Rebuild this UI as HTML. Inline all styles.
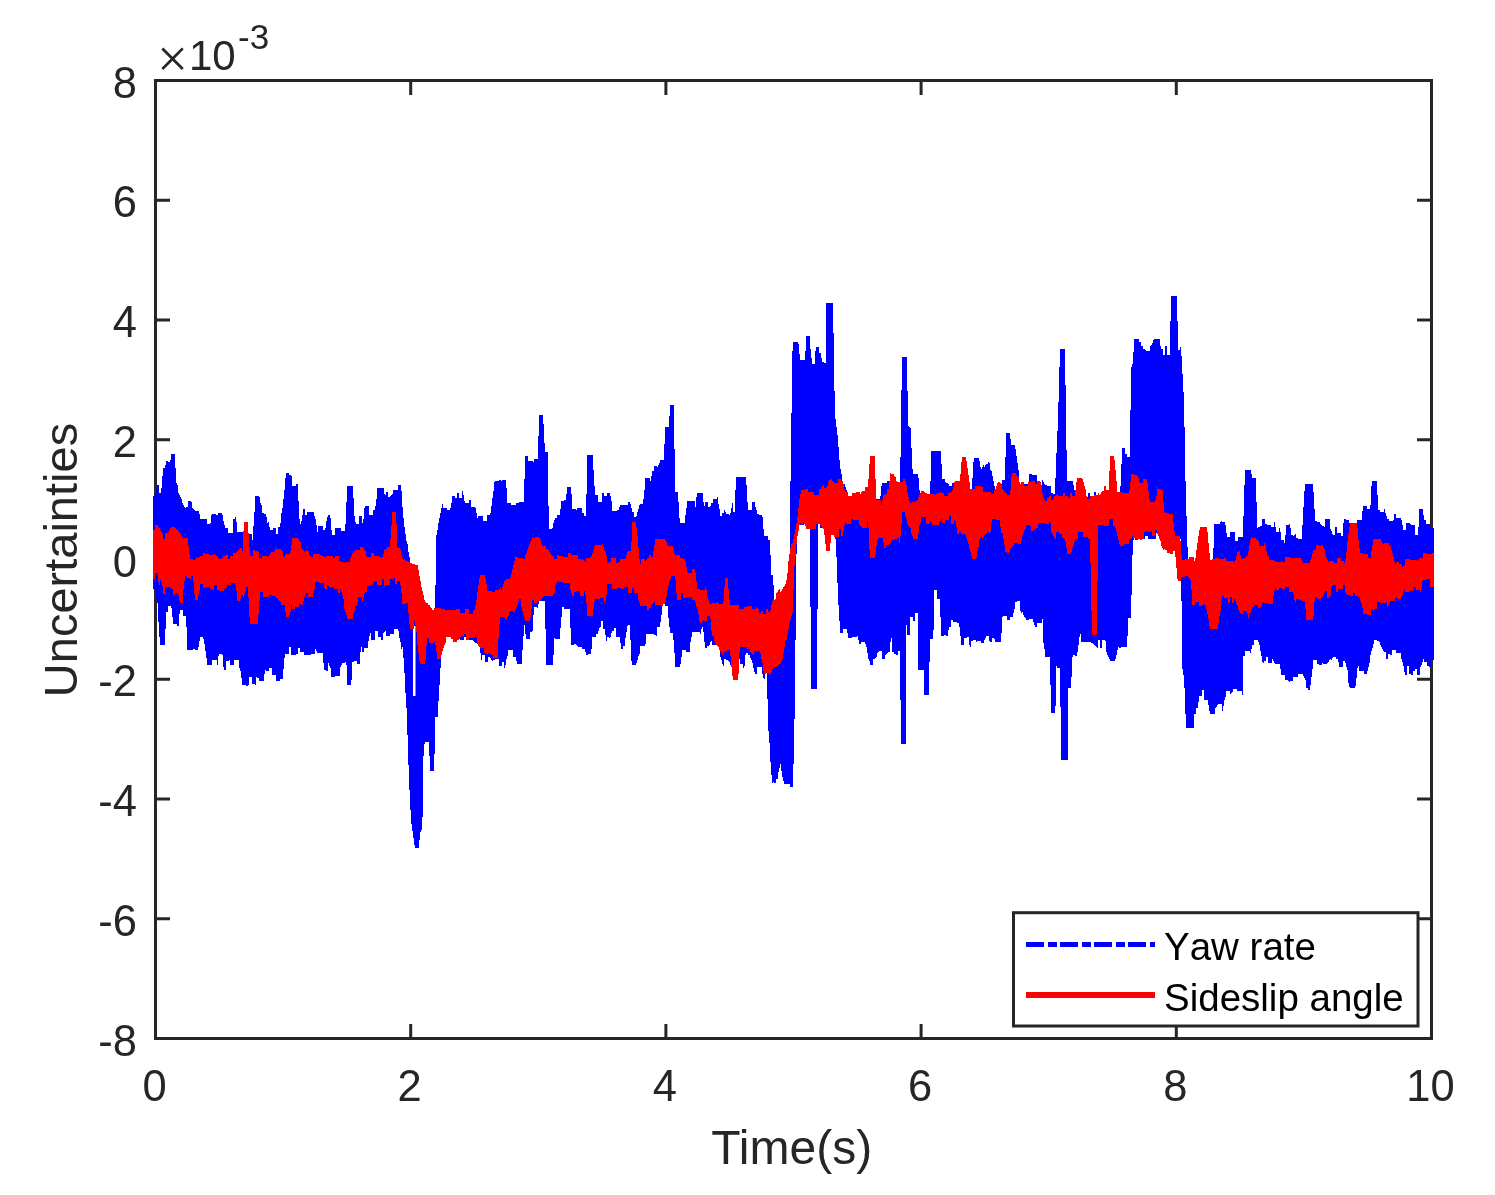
<!DOCTYPE html>
<html><head><meta charset="utf-8"><title>Uncertainties</title>
<style>html,body{margin:0;padding:0;background:#fff;overflow:hidden}svg{display:block}</style></head><body>
<svg width="1495" height="1195" viewBox="0 0 1495 1195">
<rect width="1495" height="1195" fill="#fff"/>
<path d="M155.5 1038.5V1024M155.5 80.5V95M410.7 1038.5V1024M410.7 80.5V95M665.9 1038.5V1024M665.9 80.5V95M921.1 1038.5V1024M921.1 80.5V95M1176.3 1038.5V1024M1176.3 80.5V95M1431.5 1038.5V1024M1431.5 80.5V95M155.5 1038.5H170M1431.5 1038.5H1417M155.5 918.8H170M1431.5 918.8H1417M155.5 799H170M1431.5 799H1417M155.5 679.2H170M1431.5 679.2H1417M155.5 559.5H170M1431.5 559.5H1417M155.5 439.8H170M1431.5 439.8H1417M155.5 320H170M1431.5 320H1417M155.5 200.2H170M1431.5 200.2H1417M155.5 80.5H170M1431.5 80.5H1417" stroke="#262626" stroke-width="3" fill="none"/>
<rect x="155.5" y="80.5" width="1276" height="958" fill="none" stroke="#262626" stroke-width="3"/>
<path d="M153.5 496.2V589.2M154.5 496.2V589.2M155.5 492.7V592.6M156.5 489.2V599.4M157.5 484.8V602.6M158.5 484.8V622.2M159.5 493.3V637.4M160.5 493.3V645M161.5 487.6V645M162.5 476.3V645M163.5 467.7V645M164.5 467.7V645M165.5 464.7V628.5M166.5 461.3V612M167.5 461.3V612M168.5 462.2V606.4M169.5 462.2V606.4M170.5 460.2V606.4M171.5 454V607.7M172.5 454V617M173.5 454V624.4M174.5 454V624.4M175.5 468.3V624.4M176.5 482.5V624.4M177.5 485V625.5M178.5 492.6V625.5M179.5 495.1V614M180.5 497.3V610.4M181.5 499.3V610.4M182.5 502.5V610.4M183.5 504.5V615.6M184.5 506.5V615.6M185.5 507.5V615.6M186.5 507.1V626.6M187.5 507.1V649.5M188.5 501.1V650M189.5 501.1V650M190.5 501.1V650M191.5 501.7V650M192.5 507.8V649.9M193.5 509.1V649.2M194.5 510.1V649.2M195.5 510.7V649.7M196.5 510.7V649.7M197.5 510.7V649.7M198.5 510.7V646.6M199.5 514V640.6M200.5 519V636.6M201.5 519V636.6M202.5 519V636.6M203.5 519V639.1M204.5 519V644.3M205.5 519V651.2M206.5 519V658.1M207.5 524V665.2M208.5 524V665.2M209.5 524V665.2M210.5 523.4V665.2M211.5 514.7V665.2M212.5 513.5V660.3M213.5 513.5V660.3M214.5 513.5V660.3M215.5 513.5V660.3M216.5 515.3V660.3M217.5 515.3V664.5M218.5 512.7V655.7M219.5 512.7V653.5M220.5 512.7V653.5M221.5 512.7V653.5M222.5 514.6V654.9M223.5 520.6V666.9M224.5 524.5V669.9M225.5 527.5V669.9M226.5 527.5V660.6M227.5 527.5V660.6M228.5 532.6V660.6M229.5 532.6V660M230.5 532.6V664.9M231.5 532.6V664.9M232.5 532.6V664.9M233.5 519.3V664.9M234.5 519.3V659.7M235.5 517.4V659.7M236.5 522.1V659.7M237.5 531.6V659.7M238.5 531.6V659.7M239.5 531.6V667.6M240.5 531.6V671M241.5 531.6V677.8M242.5 531.7V684.6M243.5 531.7V685.2M244.5 531.7V685.2M245.5 531.7V685.2M246.5 536.9V685.6M247.5 536.9V685.6M248.5 536.9V685.2M249.5 534V677.2M250.5 534V677M251.5 534V677M252.5 540.3V684.4M253.5 526.3V684.4M254.5 512.3V684.4M255.5 496V684.8M256.5 496V677.4M257.5 496V678.2M258.5 496V678.2M259.5 497.4V680.8M260.5 502.9V680.8M261.5 505.1V680.8M262.5 512.6V680.8M263.5 512.6V680.8M264.5 513.9V674.3M265.5 513.9V669.5M266.5 516.8V670.5M267.5 522.5V670.5M268.5 521.6V670.5M269.5 527.3V668.3M270.5 530.2V668.3M271.5 530.2V668.3M272.5 530.2V675M273.5 528V675M274.5 528V675M275.5 528V674.5M276.5 533.7V680.7M277.5 533.7V681.1M278.5 527.2V681.1M279.5 527.2V681.1M280.5 522.6V679.2M281.5 513.2V679.2M282.5 508.2V679.2M283.5 498.9V668.7M284.5 489.5V657.9M285.5 477.5V653.6M286.5 473.4V653.6M287.5 473.4V653.6M288.5 473.4V653.6M289.5 474.6V647M290.5 474.6V647M291.5 476.4V654.7M292.5 486.2V654.7M293.5 486.2V654.7M294.5 486.2V654.7M295.5 486.2V654.7M296.5 483.5V653.6M297.5 483.5V653.6M298.5 501.1V647.9M299.5 518.7V647.9M300.5 524.3V651.9M301.5 520.9V651.9M302.5 514.5V651.9M303.5 509.1V651.9M304.5 509.1V654.5M305.5 515.3V654.5M306.5 515.3V654.5M307.5 511.6V654.6M308.5 511.6V654.6M309.5 511.6V654.6M310.5 511.6V654.6M311.5 512.2V653.9M312.5 512.2V653.9M313.5 512.2V653.9M314.5 515.8V653.9M315.5 519V649.2M316.5 525.4V651.2M317.5 531.8V653.2M318.5 526.3V653.2M319.5 526.3V653.1M320.5 526.3V653.1M321.5 526.3V653.1M322.5 526.3V653.1M323.5 529.5V662.7M324.5 529.5V669.8M325.5 527.5V669.8M326.5 520.8V670.9M327.5 516.8V670.9M328.5 515.2V663.4M329.5 515.2V666.4M330.5 517.6V668.4M331.5 529.7V677M332.5 534.5V677M333.5 534.5V677M334.5 534.5V677M335.5 528.4V675.9M336.5 528.4V675.9M337.5 527.8V675.9M338.5 527.8V676.3M339.5 527.8V676.3M340.5 527.8V667.4M341.5 531.4V665.4M342.5 531.4V663.4M343.5 531.1V663.4M344.5 531.1V663.4M345.5 523.6V662.3M346.5 502.4V664.9M347.5 486V685M348.5 486V685M349.5 486V685M350.5 486V685M351.5 486V679.7M352.5 486V661.7M353.5 497.6V661.7M354.5 516.1V661.1M355.5 521.9V661.1M356.5 523.5V661.1M357.5 523.5V664M358.5 523.5V664M359.5 515.7V664M360.5 515.7V651.9M361.5 515.7V647.1M362.5 523.3V652.2M363.5 519.3V652.2M364.5 508V647.9M365.5 506V647.9M366.5 506V647.9M367.5 506V647.9M368.5 506V641.1M369.5 514.5V636.2M370.5 514.5V632.8M371.5 514.5V639.6M372.5 514.5V639.6M373.5 509.9V639.6M374.5 509.9V639.6M375.5 506.3V630.9M376.5 499.1V630.9M377.5 487.7V630.9M378.5 487.7V637M379.5 487.7V637M380.5 487.9V637M381.5 487.9V639.5M382.5 487.9V639.5M383.5 487.9V633.2M384.5 494.2V632M385.5 495.2V631.4M386.5 492V636.3M387.5 492V636.3M388.5 497V636.3M389.5 497V636.3M390.5 496.3V634M391.5 495V634M392.5 493.7V634M393.5 489.8V634M394.5 489.5V629.4M395.5 489.5V629.4M396.5 489.5V629.4M397.5 489.5V629.4M398.5 485.4V630.6M399.5 485.4V638.3M400.5 485.4V642.2M401.5 490.6V648.9M402.5 507.4V646.9M403.5 517.8V657.7M404.5 526.6V672.7M405.5 534V692.7M406.5 541.4V707.7M407.5 544.1V735.2M408.5 551.5V765.2M409.5 556.7V789.7M410.5 564.3V809.7M411.5 572V823.8M412.5 579.1V831.2M413.5 581V838.2M414.5 582.9V844.8M415.5 584.7V848M416.5 586.6V848M417.5 590.1V848M418.5 592V848M419.5 593.9V840M420.5 596.5V831.6M421.5 599.9V829.7M422.5 599.7V816.5M423.5 603.1V755.6M424.5 606.5V743.7M425.5 616.7V742.4M426.5 617.2V742.4M427.5 611.8V742.4M428.5 612.3V741.7M429.5 612.8V755.7M430.5 613.3V771M431.5 613.8V771M432.5 611.1V771M433.5 611.6V771M434.5 612.1V754M435.5 584.6V716.9M436.5 535.4V716.9M437.5 530.4V716.9M438.5 523.3V700.9M439.5 518.4V685.2M440.5 513.4V667.5M441.5 508.4V654.6M442.5 503.5V646.6M443.5 508.3V642.4M444.5 508.3V635.6M445.5 508.3V635.4M446.5 508.3V635.5M447.5 510V635.6M448.5 510V635.7M449.5 510V635.1M450.5 507.8V635.2M451.5 503.4V635.3M452.5 496.2V635.4M453.5 496.2V635.5M454.5 496.2V635.8M455.5 498.2V635.9M456.5 498.2V636M457.5 493.2V639.2M458.5 493.2V639.3M459.5 497.8V639.4M460.5 497.8V639.5M461.5 497.8V639.6M462.5 490.8V639.8M463.5 494.8V639.9M464.5 500.8V636.9M465.5 502.8V637.1M466.5 502.8V637.4M467.5 502.8V637.7M468.5 502.8V638M469.5 500.4V639.5M470.5 500.4V639.8M471.5 506.5V640.1M472.5 506.5V640.4M473.5 506.9V641.3M474.5 506.9V641.6M475.5 508V642.7M476.5 512.8V643.3M477.5 517.6V643.9M478.5 516V643.2M479.5 516V643.8M480.5 516V652.9M481.5 516V660.4M482.5 516V655.4M483.5 521.1V655.4M484.5 521.1V655.4M485.5 521.1V662.2M486.5 521.1V662.2M487.5 515.1V662.2M488.5 515.1V657.3M489.5 515.1V657.3M490.5 513V658.3M491.5 506V660.3M492.5 498.2V661.3M493.5 491.2V660.4M494.5 482V660.4M495.5 480.7V659.4M496.5 480.7V659.4M497.5 480.7V659.4M498.5 480.7V659.4M499.5 479.9V665.5M500.5 480.3V665.5M501.5 481.1V665.5M502.5 479.5V662.1M503.5 479.5V662.1M504.5 479.5V668.4M505.5 479.5V665.4M506.5 488.1V659.4M507.5 503.4V656.4M508.5 503.4V649.6M509.5 503.4V649.6M510.5 503.4V649.6M511.5 505.3V649.6M512.5 505.3V649.6M513.5 505.3V656.5M514.5 505.3V656.5M515.5 505.3V656.5M516.5 502.6V661M517.5 502.6V663.5M518.5 502.6V663.5M519.5 502.3V663.5M520.5 502.3V663.5M521.5 502.3V663.5M522.5 502.3V649.6M523.5 502.3V636.1M524.5 479V624.8M525.5 455.5V634.3M526.5 455.5V638.8M527.5 455.5V638.8M528.5 460.5V638.8M529.5 460.5V638.8M530.5 460.5V631.9M531.5 460.5V631.9M532.5 461.4V631.2M533.5 461.9V615.2M534.5 458.5V607.2M535.5 458.5V607.2M536.5 458.5V607.2M537.5 458.5V607.9M538.5 435.5V603.9M539.5 415V599.9M540.5 415V600.6M541.5 415V600.6M542.5 415V600.6M543.5 424.2V600.6M544.5 442.8V600.6M545.5 452.2V629.2M546.5 452.2V665M547.5 452.2V665M548.5 506.1V665M549.5 529.4V665M550.5 529.4V665M551.5 529.4V665M552.5 527.7V665M553.5 523.3V655M554.5 520V637.6M555.5 518.3V638.9M556.5 518.3V638.9M557.5 514.7V638.9M558.5 514.7V638.9M559.5 514.7V638.9M560.5 508.7V627.6M561.5 501.1V617.2M562.5 501.4V606.8M563.5 501.4V606.8M564.5 500V608.6M565.5 500V608.6M566.5 493.5V608.6M567.5 487V608.6M568.5 487V609.1M569.5 487V609.1M570.5 487V628M571.5 493.7V644.5M572.5 508.5V644.5M573.5 508.5V644.5M574.5 508.5V643.9M575.5 508.5V643.9M576.5 510.1V644.5M577.5 508.1V645.9M578.5 508.1V646.9M579.5 508.1V646.9M580.5 508.1V646.9M581.5 507.7V646.9M582.5 513.1V648.9M583.5 513.1V648.9M584.5 516.1V648.8M585.5 516.1V651.8M586.5 493.5V654.9M587.5 455V654.9M588.5 455V653.6M589.5 455V653.6M590.5 455V653.6M591.5 455V648.8M592.5 455V636.8M593.5 469.8V636.8M594.5 486V636.8M595.5 495.4V636.8M596.5 495.4V633.7M597.5 495.4V633.7M598.5 502V630.9M599.5 502V628.1M600.5 502V626.7M601.5 502V620.8M602.5 493.1V620.8M603.5 493.1V629M604.5 496V629M605.5 496V635M606.5 496V641M607.5 493.2V636.5M608.5 493.2V636.5M609.5 493.2V637.9M610.5 495.8V636.9M611.5 501V633.2M612.5 511.4V631.2M613.5 511.4V631.2M614.5 511.4V627.8M615.5 511.4V627.8M616.5 511.4V636.8M617.5 509.5V636.8M618.5 509.5V636.8M619.5 506.5V636.8M620.5 504.5V642.8M621.5 504.5V648.8M622.5 504.7V648.8M623.5 504.7V645.5M624.5 504.7V645.5M625.5 504.8V637.5M626.5 504.8V631.9M627.5 504.8V626.3M628.5 502.1V625M629.5 502.1V625M630.5 504.4V640M631.5 508.4V661M632.5 512.4V664.8M633.5 512.4V664.8M634.5 517.4V665M635.5 517.4V665M636.5 515.6V662.6M637.5 512.1V660.1M638.5 508.6V656M639.5 505.3V653.5M640.5 503.5V645.8M641.5 503.5V645.8M642.5 503.5V645.8M643.5 499.3V645.8M644.5 489.8V645.8M645.5 477.5V644.4M646.5 477.5V634.4M647.5 477.5V633.7M648.5 477.5V633.7M649.5 477.5V633.7M650.5 481V633.8M651.5 476.2V633.8M652.5 471.4V633.8M653.5 471.4V633.8M654.5 466.3V634.5M655.5 466.3V635M656.5 466.3V635.5M657.5 467V627.4M658.5 465V627.4M659.5 463V627.4M660.5 460.4V622.2M661.5 460.4V614.5M662.5 460.4V604.1M663.5 460.4V604.1M664.5 443.5V604.1M665.5 427V605.8M666.5 427V605.8M667.5 427V605.8M668.5 427V617.8M669.5 416V626.8M670.5 405V632.8M671.5 405V632.8M672.5 405V632.8M673.5 405V639.5M674.5 448.5V653M675.5 492.3V667M676.5 492.3V667M677.5 492.3V667M678.5 501.5V667M679.5 518.1V667M680.5 522.7V664M681.5 522.7V657M682.5 522.8V649.6M683.5 522.8V649.6M684.5 522.8V649.6M685.5 515.3V649.6M686.5 507.8V651.9M687.5 501.1V651.9M688.5 501.1V651.9M689.5 501.1V651.9M690.5 501.1V642.1M691.5 501.1V636.9M692.5 501.3V631.7M693.5 501.3V631.7M694.5 501.3V631.7M695.5 506.5V632M696.5 497.4V632M697.5 493.4V632M698.5 493.4V632M699.5 493.4V632M700.5 493.2V633.5M701.5 493.2V629M702.5 493.2V626.6M703.5 501.5V631.9M704.5 506.3V642.4M705.5 502.1V647.6M706.5 502.1V647.6M707.5 502.1V645.6M708.5 507V645.6M709.5 507V645.1M710.5 505.8V642.3M711.5 503.4V641.3M712.5 503V644.9M713.5 498.8V644.9M714.5 498.8V644.9M715.5 498.8V644.9M716.5 498.8V643.9M717.5 496.8V645.1M718.5 503.6V647.4M719.5 509.2V649.8M720.5 516V656.8M721.5 516V660.4M722.5 512.5V664.1M723.5 512.5V665.9M724.5 510.1V658.9M725.5 512.1V658.9M726.5 514.1V659.8M727.5 514.1V659.8M728.5 514.1V660.9M729.5 515.1V661.5M730.5 512.7V665.4M731.5 507.9V666M732.5 503.1V666.6M733.5 511.8V666.9M734.5 511.8V666.9M735.5 489.5V659.1M736.5 477V659.1M737.5 477V659.1M738.5 477V659.1M739.5 477V659.1M740.5 477V663.7M741.5 477V663.7M742.5 477V663.7M743.5 477V668.3M744.5 477V665.5M745.5 477V655.3M746.5 485.3V652.6M747.5 502.2V652.6M748.5 509.5V655M749.5 509.5V655M750.5 509.5V657.8M751.5 509.5V659.9M752.5 502.1V663.3M753.5 502.1V667.5M754.5 502.1V671.8M755.5 506.6V673.9M756.5 510.2V673.9M757.5 513.8V667M758.5 513.8V667M759.5 515.3V667M760.5 515.3V667M761.5 515.3V667M762.5 516.7V674.1M763.5 529.4V677.6M764.5 535.7V679.3M765.5 535.7V672.5M766.5 536.4V672.5M767.5 536.4V698.5M768.5 539.5V730.7M769.5 539.5V742.9M770.5 554.5V762.2M771.5 574.5V774.5M772.5 575.1V783M773.5 585.1V782M774.5 600.1V783M775.5 605.1V783M776.5 605.1V778.5M777.5 605.1V778.5M778.5 605.1V772.2M779.5 600.1V767.8M780.5 600.1V763.5M781.5 600.1V771.4M782.5 603.1V777.1M783.5 603.1V780.8M784.5 603.1V783.7M785.5 601.8V783.7M786.5 603.9V783.7M787.5 601.4V783.7M788.5 598.9V784.1M789.5 558.1V784.1M790.5 480.5V787M791.5 412.7V787M792.5 350.8V787M793.5 341.5V763.8M794.5 341.5V718.8M795.5 341.5V640.2M796.5 341.5V554.2M797.5 341.5V516.7M798.5 343.6V516.7M799.5 353.5V516.7M800.5 360.2V524.9M801.5 360.2V524.9M802.5 360.2V524.9M803.5 360V524.9M804.5 360V517.2M805.5 350.5V517.2M806.5 336V517.2M807.5 336V517.2M808.5 336V518.2M809.5 336V518.2M810.5 348.5V607M811.5 358V689M812.5 364.2V689M813.5 364.2V689M814.5 364.2V689M815.5 350.8V689M816.5 346.6V689M817.5 346.6V608.5M818.5 346.6V523.7M819.5 353.2V523.7M820.5 353.2V527.6M821.5 357.5V527.6M822.5 361.7V519.5M823.5 361.7V519.5M824.5 363V519.5M825.5 363V527.8M826.5 302.6V527.8M827.5 302.6V526.7M828.5 302.6V526.7M829.5 302.6V526.7M830.5 302.6V527.9M831.5 302.6V527.9M832.5 302.6V527.9M833.5 332.8V527.9M834.5 391V532.9M835.5 418.7V539.4M836.5 427V557.4M837.5 435.4V583.4M838.5 446.9V604.6M839.5 459.9V621.1M840.5 468.9V632.9M841.5 473.9V632.9M842.5 480.5V632.9M843.5 484.8V629.3M844.5 483.5V629.3M845.5 487V629.3M846.5 490.4V629.3M847.5 497.4V632.8M848.5 498.9V637.9M849.5 500.3V637.9M850.5 501V637.9M851.5 501V637.9M852.5 502.3V637.3M853.5 502.3V637.3M854.5 502.3V637.3M855.5 502.3V637.3M856.5 493.6V637.3M857.5 493.6V636.1M858.5 493.6V640.1M859.5 494.1V644.1M860.5 494.1V644.1M861.5 494.1V641.8M862.5 494.1V641.8M863.5 496.9V641.8M864.5 496.9V641.8M865.5 496.9V644.4M866.5 496.9V647.2M867.5 498.2V652.9M868.5 498.2V658.6M869.5 498.2V661.4M870.5 498.2V664.7M871.5 498.2V664.7M872.5 495.6V664.7M873.5 495.6V658.5M874.5 495.6V658.5M875.5 498.6V657.9M876.5 498.6V656.6M877.5 498.6V653M878.5 498.6V651.8M879.5 498.6V651.1M880.5 495.6V651.1M881.5 486.2V651.1M882.5 483.2V658.5M883.5 483.2V658.5M884.5 482.6V658.5M885.5 482.6V655M886.5 482.6V654.4M887.5 481.1V653.2M888.5 481.1V651.9M889.5 481.1V652.4M890.5 491.7V641.8M891.5 496.2V638.4M892.5 498.5V651.8M893.5 498V651.8M894.5 498V654.2M895.5 498V654.2M896.5 498V654.7M897.5 498V654.7M898.5 498V651.3M899.5 498V651.3M900.5 456.6V699.5M901.5 389.9V744M902.5 356.5V744M903.5 356.5V744M904.5 356.5V744M905.5 356.5V744M906.5 356.5V625.4M907.5 390.8V634.9M908.5 425.5V634.9M909.5 426.5V634.9M910.5 427.5V617M911.5 448V617M912.5 469.4V617M913.5 473.8V621.2M914.5 473.9V621.2M915.5 474.1V613.2M916.5 474.2V613.2M917.5 474.4V613.2M918.5 477.9V670M919.5 490V670M920.5 502V670M921.5 502V670M922.5 493.6V670M923.5 493.6V670M924.5 498.9V695M925.5 498.9V695M926.5 498.9V695M927.5 498.9V695M928.5 498.9V695M929.5 502.4V662M930.5 481.2V638.7M931.5 450.6V638.7M932.5 450.6V638.7M933.5 450.6V630.1M934.5 450.6V590.1M935.5 450.6V590.1M936.5 450.6V590.1M937.5 450.6V598.6M938.5 450.6V598.6M939.5 450.6V598.6M940.5 450.6V617.2M941.5 464.3V635.7M942.5 479.2V635.7M943.5 479.2V635.7M944.5 479.2V635M945.5 482.1V635M946.5 482.5V635.9M947.5 483.4V635.9M948.5 483.8V630.1M949.5 486V627.3M950.5 486.2V627.3M951.5 486.1V620.1M952.5 482.7V620.1M953.5 482.6V622M954.5 482.6V622M955.5 482.5V622M956.5 482.4V622M957.5 481.8V622.5M958.5 483.7V622.5M959.5 487.9V626.8M960.5 488.8V636M961.5 488.8V645.3M962.5 485.5V645.3M963.5 485.5V645.3M964.5 485.5V637.5M965.5 485.5V637.5M966.5 485.5V637.5M967.5 485.5V636.7M968.5 485.5V636.7M969.5 488.9V644.8M970.5 488.9V646.8M971.5 488.9V641.1M972.5 477.8V641.1M973.5 461.7V640.3M974.5 457.7V640.3M975.5 457.6V640.3M976.5 457.6V642.1M977.5 457.6V640.5M978.5 457.8V640.5M979.5 461V640.5M980.5 467.2V640.5M981.5 469.3V642.9M982.5 467.3V642.9M983.5 465.3V642.9M984.5 466.8V639.9M985.5 464.8V637.9M986.5 463.8V635.5M987.5 463.8V635.5M988.5 461.5V635.5M989.5 463.1V641.4M990.5 470.2V641.7M991.5 471.1V642.4M992.5 476.1V637.7M993.5 481.1V638.4M994.5 486.1V638.6M995.5 490V641.8M996.5 488V641.8M997.5 486V641.8M998.5 486V641.8M999.5 483.6V641.8M1000.5 483.6V641.8M1001.5 483.6V633.4M1002.5 480.3V616.8M1003.5 480.3V615.6M1004.5 480.3V615.6M1005.5 456.6V615.6M1006.5 432.5V615.6M1007.5 432.5V619.8M1008.5 432.5V619.8M1009.5 432.5V619.8M1010.5 438.8V617.1M1011.5 445V617.1M1012.5 445V617.1M1013.5 445V613.1M1014.5 445V609.1M1015.5 448.5V601.7M1016.5 455.5V601.7M1017.5 462.5V601.3M1018.5 469.5V601.3M1019.5 484.2V601.3M1020.5 487.1V610.9M1021.5 485.9V613.4M1022.5 486.2V612.2M1023.5 485V614.7M1024.5 483.8V617.2M1025.5 484V618.4M1026.5 484V619.7M1027.5 484V619.7M1028.5 484V619.7M1029.5 474.3V619.2M1030.5 474.3V619.2M1031.5 474.3V619.2M1032.5 475V619.2M1033.5 475V621.5M1034.5 475V624.5M1035.5 475V626.5M1036.5 475V626.5M1037.5 483.9V622.8M1038.5 483.9V622.8M1039.5 483.9V622.8M1040.5 485V622.8M1041.5 487.2V622.8M1042.5 479.5V619.2M1043.5 481.7V643.2M1044.5 483.9V649.2M1045.5 485V656.8M1046.5 485V656.8M1047.5 485.6V656.8M1048.5 485.6V656.8M1049.5 485.6V656.6M1050.5 485.6V685M1051.5 493.1V712.5M1052.5 493.1V712.5M1053.5 493.6V712.5M1054.5 493.6V712.5M1055.5 477.6V706.3M1056.5 452.5V665.8M1057.5 430.8V668.4M1058.5 402.2V668.4M1059.5 366.8V668.4M1060.5 349V706.9M1061.5 349V760M1062.5 349V760M1063.5 349V760M1064.5 349V760M1065.5 384.5V760M1066.5 450V760M1067.5 481.1V760M1068.5 481.1V687.5M1069.5 480.6V687.5M1070.5 480.6V687.5M1071.5 480.6V677.2M1072.5 480.6V657.4M1073.5 485.4V654.8M1074.5 489.7V654.8M1075.5 492.1V656.2M1076.5 492.1V656.2M1077.5 492.1V652.1M1078.5 492.1V644.7M1079.5 494.5V637.3M1080.5 494.5V633.6M1081.5 501.2V641.9M1082.5 501.2V641.9M1083.5 501.2V641.9M1084.5 496.7V641.9M1085.5 496.7V641.9M1086.5 496.7V641.5M1087.5 496.7V641.5M1088.5 493.1V641.5M1089.5 493.1V641.5M1090.5 496.4V641.9M1091.5 496.4V642.6M1092.5 496.4V643.4M1093.5 496.4V644.3M1094.5 492.4V645.3M1095.5 492.4V646.2M1096.5 497.7V647.1M1097.5 497.7V647.9M1098.5 497.7V639.5M1099.5 497.7V639.5M1100.5 497.7V647.9M1101.5 501.3V647.9M1102.5 501.3V640.1M1103.5 501.3V640.1M1104.5 501.3V640.1M1105.5 501.3V641.3M1106.5 492.7V652.4M1107.5 492.7V654.8M1108.5 492.7V656.5M1109.5 492.7V658.9M1110.5 492.7V661M1111.5 499.9V661M1112.5 499.9V661M1113.5 496.6V661M1114.5 496.6V661M1115.5 496.6V658.8M1116.5 500.3V654.9M1117.5 500.3V649.7M1118.5 500.3V646.5M1119.5 500.3V647.7M1120.5 486V647.6M1121.5 463.8V647.4M1122.5 447.6V647.3M1123.5 447.6V647M1124.5 447.6V646.9M1125.5 453.9V646.9M1126.5 453.9V646.8M1127.5 456.6V635.7M1128.5 456.6V618.4M1129.5 456.6V618.4M1130.5 410.1V618.4M1131.5 366.5V595.4M1132.5 364.1V554.9M1133.5 352V539.7M1134.5 339.1V537.2M1135.5 339.1V539.8M1136.5 339.1V539.8M1137.5 339.1V539.8M1138.5 339.1V531.9M1139.5 342V531.9M1140.5 342V531.9M1141.5 346.4V531.9M1142.5 346.4V531.9M1143.5 349.2V539.4M1144.5 349V539.4M1145.5 350.4V536.2M1146.5 351V536.2M1147.5 351V536.2M1148.5 351V539.1M1149.5 351V539.1M1150.5 346.4V539.1M1151.5 345.1V538.8M1152.5 342.6V538.8M1153.5 340V538.8M1154.5 339.2V538.8M1155.5 339.2V538.8M1156.5 339.2V533.2M1157.5 339.2V533.2M1158.5 339.2V533.2M1159.5 339.2V533.2M1160.5 345.9V533.2M1161.5 348.9V530.5M1162.5 348.9V530.5M1163.5 354.9V539.6M1164.5 354.9V539.6M1165.5 346.3V539.6M1166.5 346.4V539.6M1167.5 354.7V531.3M1168.5 354.9V531.3M1169.5 355.2V531.3M1170.5 321V531.3M1171.5 296V531.2M1172.5 296V531.2M1173.5 296V531.2M1174.5 296V531.2M1175.5 296V539.8M1176.5 296V539.8M1177.5 321V539.4M1178.5 350.1V539.4M1179.5 350.1V539.4M1180.5 346.9V539.4M1181.5 355.9V601.3M1182.5 373.6V668.8M1183.5 391.6V674.7M1184.5 427.2V687.8M1185.5 480.6V713.7M1186.5 515.5V727.5M1187.5 547V727.5M1188.5 562.7V727.5M1189.5 571V727.5M1190.5 572.2V727.5M1191.5 573.6V727.5M1192.5 573.6V727.5M1193.5 573.6V727.5M1194.5 568.5V714M1195.5 568.5V714M1196.5 568.5V708M1197.5 568.5V708M1198.5 568.5V702M1199.5 565V696M1200.5 565V696M1201.5 565V696M1202.5 565V690.4M1203.5 567.5V690.4M1204.5 567.5V699.5M1205.5 567.5V699.5M1206.5 567.5V699.5M1207.5 567.5V699.5M1208.5 572.3V705.1M1209.5 572.3V711.1M1210.5 567.7V714.1M1211.5 567.7V714.1M1212.5 567.7V714.1M1213.5 547.7V714.1M1214.5 523.7V714.1M1215.5 523.7V708.1M1216.5 524.1V706.5M1217.5 524.1V704.9M1218.5 523.9V704.4M1219.5 523.6V704.4M1220.5 521.5V704.4M1221.5 521.3V704.4M1222.5 521.9V710.9M1223.5 521.9V705.5M1224.5 521.9V700.1M1225.5 525.3V697.4M1226.5 532.7V690.6M1227.5 537.1V690.6M1228.5 537.1V690.6M1229.5 537.1V690.6M1230.5 532V693.6M1231.5 532V692.9M1232.5 532V692.2M1233.5 532V688.8M1234.5 532V688.6M1235.5 540.6V688.6M1236.5 540.6V688.6M1237.5 540.6V690.5M1238.5 536.9V690.5M1239.5 536.9V690.5M1240.5 536.9V690.5M1241.5 536.9V690.5M1242.5 536.9V694.7M1243.5 516.3V655.7M1244.5 485.4V655.7M1245.5 470V650.8M1246.5 470V650.8M1247.5 470V650.8M1248.5 470V650.8M1249.5 470V650.8M1250.5 470V652.6M1251.5 473.8V648.6M1252.5 477.6V644.6M1253.5 477.6V644.6M1254.5 477.6V640.1M1255.5 477.6V640.1M1256.5 501.7V640.1M1257.5 528V640.1M1258.5 527.3V642.3M1259.5 526.7V645M1260.5 526.3V650.6M1261.5 526.3V656.2M1262.5 519.3V662.2M1263.5 519.3V662.7M1264.5 519.3V661.2M1265.5 523.9V661.2M1266.5 523.9V657.3M1267.5 525.1V657.3M1268.5 525.1V663.1M1269.5 525V663.1M1270.5 525V663.1M1271.5 526.9V663.1M1272.5 526.9V658.6M1273.5 526.9V660.5M1274.5 521.6V662.5M1275.5 526.6V663.7M1276.5 531.6V663.7M1277.5 531.6V663.7M1278.5 531.6V664.1M1279.5 528.3V664.1M1280.5 532.3V669.1M1281.5 540.3V674.9M1282.5 540.3V674.9M1283.5 540.3V674.9M1284.5 543.3V674.9M1285.5 535.3V680.1M1286.5 525.3V680.1M1287.5 525.3V680.1M1288.5 525.3V680.7M1289.5 524.1V681.9M1290.5 527.8V680.6M1291.5 535.4V680.6M1292.5 535.4V680.6M1293.5 535.8V676.7M1294.5 535.3V676.7M1295.5 534.3V676.7M1296.5 537.6V676.7M1297.5 537.6V676.7M1298.5 539.4V673.5M1299.5 539.4V673.5M1300.5 539.4V673.5M1301.5 539.4V673.5M1302.5 525.4V673.5M1303.5 506.8V676M1304.5 491V677.8M1305.5 484V679.6M1306.5 484V687.5M1307.5 484V687.5M1308.5 484V689.5M1309.5 484V689.5M1310.5 484V685.2M1311.5 484V677.3M1312.5 484V669.4M1313.5 491.8V659.6M1314.5 508.6V659.6M1315.5 520.9V659.6M1316.5 520.9V659.6M1317.5 521.9V663.9M1318.5 521.9V664.1M1319.5 521.9V664.5M1320.5 523.9V664.9M1321.5 524.7V665.3M1322.5 525.5V663.4M1323.5 526.3V663.6M1324.5 527.1V663.6M1325.5 519.2V663.6M1326.5 519.2V663.6M1327.5 519.2V662.5M1328.5 519.2V661.7M1329.5 519.2V660.1M1330.5 528.7V658.5M1331.5 531.2V659.7M1332.5 533.8V658.1M1333.5 535V657.3M1334.5 535V657.3M1335.5 526.8V657.3M1336.5 526.8V658.7M1337.5 532.7V658.7M1338.5 532.7V661.5M1339.5 532.7V667M1340.5 532.7V667.4M1341.5 535.8V667.4M1342.5 535.8V667.4M1343.5 522.9V661.4M1344.5 519V661.4M1345.5 519V663.1M1346.5 519.6V666.6M1347.5 519.6V670.1M1348.5 519.5V682.8M1349.5 523.2V686.7M1350.5 526.2V688.4M1351.5 526.2V688.4M1352.5 526.2V688.4M1353.5 532.8V688.4M1354.5 532.8V688.4M1355.5 532.8V686.3M1356.5 522.5V678.2M1357.5 519.5V668.1M1358.5 519.5V666M1359.5 520.3V671.1M1360.5 520.3V671.1M1361.5 520.3V671.1M1362.5 510.8V671.1M1363.5 505.7V671.1M1364.5 505.7V673.9M1365.5 505.7V673.9M1366.5 505.7V673.9M1367.5 509.4V671M1368.5 509.4V666.7M1369.5 509.4V663M1370.5 504.6V655M1371.5 485.8V651.4M1372.5 481V647.8M1373.5 481V644.1M1374.5 481V639.8M1375.5 481V639.8M1376.5 481V639.8M1377.5 494.8V641.4M1378.5 510.1V641.4M1379.5 510.1V642.4M1380.5 512.2V644.5M1381.5 512.2V646.6M1382.5 512.2V648.9M1383.5 512.2V651M1384.5 508.9V652M1385.5 512.6V651.9M1386.5 516.3V659.3M1387.5 518.9V659.2M1388.5 518.9V653.5M1389.5 520.6V653.5M1390.5 520.6V655.2M1391.5 520.6V655.2M1392.5 520.6V649.7M1393.5 520.4V649.7M1394.5 514.2V649.7M1395.5 513.8V649.7M1396.5 518V653.4M1397.5 518V653.4M1398.5 518V653.4M1399.5 518V653.4M1400.5 518V653.4M1401.5 519.6V659M1402.5 524.6V662.3M1403.5 529.6V665.6M1404.5 529.6V671.5M1405.5 529.6V674.8M1406.5 523.1V675.2M1407.5 523.1V666.1M1408.5 523.1V666.1M1409.5 523.1V673.9M1410.5 524.3V673.9M1411.5 524.7V675M1412.5 525V675M1413.5 525V670.8M1414.5 525.4V670.8M1415.5 534.9V668.7M1416.5 534.9V668.7M1417.5 534.9V674.8M1418.5 526.9V674.8M1419.5 509V674.8M1420.5 509V666.8M1421.5 509V664.7M1422.5 509V661.9M1423.5 514.9V659.2M1424.5 519.9V661.7M1425.5 519.9V661.7M1426.5 523.9V661.7M1427.5 523.9V666.2M1428.5 523.9V666.2M1429.5 523.9V666.9M1430.5 526.9V666.9M1431.5 528.3V660.1M1432.5 528.3V660.1M1433.5 528V660.1" fill="none" stroke="#00f" stroke-width="1" shape-rendering="crispEdges"/>
<rect x="413" y="626" width="2.5" height="70" fill="#fff"/>
<path d="M153.5 529.5V578.8M154.5 529.5V578.8M155.5 525.2V573.1M156.5 525.1V573.1M157.5 525.2V573.1M158.5 526.8V581.6M159.5 528.4V584.6M160.5 530V580.4M161.5 531.6V583.4M162.5 533.2V586.4M163.5 538.7V593.6M164.5 538.7V593.6M165.5 533.4V586.6M166.5 533.4V586.6M167.5 533.2V586.6M168.5 531.6V587M169.5 530V587.4M170.5 528.4V588.1M171.5 526.8V588.5M172.5 527.3V588.9M173.5 527.3V595.4M174.5 527.3V595.4M175.5 528.1V592.5M176.5 529.7V592.5M177.5 529.2V592.5M178.5 530.8V595.4M179.5 532.4V600.9M180.5 534V603.2M181.5 535.6V603.2M182.5 537.8V603.2M183.5 537.8V590.1M184.5 537.8V580.9M185.5 537.8V576.3M186.5 537.8V576.3M187.5 537.8V578.3M188.5 545.9V578.3M189.5 554.3V578.3M190.5 558.5V578.6M191.5 558.5V575.6M192.5 558.5V575.6M193.5 559.5V582.4M194.5 559.5V593.7M195.5 558.9V600M196.5 557.7V600M197.5 556.5V600M198.5 557.8V595.3M199.5 556.6V590.5M200.5 556V584.4M201.5 556V584.4M202.5 556V584.4M203.5 553.1V588.3M204.5 553.3V588.3M205.5 553.6V586.6M206.5 553.9V586.6M207.5 554.1V586.6M208.5 554.4V586.6M209.5 554.6V586.6M210.5 554.8V588.5M211.5 554.8V589.3M212.5 554.8V590.1M213.5 554.3V590.1M214.5 554.3V585.2M215.5 555.1V585.2M216.5 555.7V585.2M217.5 556.3V590M218.5 557.9V590M219.5 558.5V590.7M220.5 558.6V590.7M221.5 558.2V590.7M222.5 557.8V590.7M223.5 556.2V590.7M224.5 555.8V588.7M225.5 555.4V587.7M226.5 555V587.4M227.5 554.6V585.4M228.5 559.2V585.4M229.5 558.8V585.4M230.5 556.4V585.4M231.5 556.4V583.4M232.5 556.4V583.4M233.5 553V583.4M234.5 553V583.4M235.5 552.5V585.1M236.5 551.5V591.1M237.5 550.6V600.7M238.5 549.6V600.7M239.5 548.7V600.7M240.5 548.2V598.5M241.5 548.2V594.7M242.5 551.4V594.7M243.5 530.7V596.5M244.5 522V593.7M245.5 522V592.3M246.5 522V587.3M247.5 522V587.3M248.5 533.2V598.4M249.5 546.7V616.5M250.5 555.8V624M251.5 555.8V624M252.5 555.8V624M253.5 550.4V624M254.5 550.4V624M255.5 550.6V624M256.5 551V624M257.5 551.4V624M258.5 551.8V614M259.5 557.8V601M260.5 558.2V592.4M261.5 558.6V592.4M262.5 556V592.4M263.5 556V596.9M264.5 556V596.9M265.5 556V597.1M266.5 556V597.1M267.5 556.6V597.1M268.5 556V597.1M269.5 555.3V595.2M270.5 552.8V595.2M271.5 552.1V595.2M272.5 551.5V596.2M273.5 551.5V596.2M274.5 550.8V596.2M275.5 548.6V596.9M276.5 548.6V598.3M277.5 548.6V598.3M278.5 548.6V599.7M279.5 548.6V601.1M280.5 548.9V601.8M281.5 549.9V605.1M282.5 550.9V605.1M283.5 556.4V605.1M284.5 557.4V605.1M285.5 553.6V611.6M286.5 553.6V616.6M287.5 553.6V616.6M288.5 553.8V616.6M289.5 553.8V615M290.5 550.6V612.1M291.5 544.6V605.3M292.5 538.3V608.7M293.5 538.3V608.7M294.5 538V608.7M295.5 538V607M296.5 538.1V607M297.5 538.1V607M298.5 539.3V607M299.5 540.8V604.3M300.5 542V604.3M301.5 548.2V605.3M302.5 549.4V605.3M303.5 550.3V601.3M304.5 551.2V597.3M305.5 552.1V595.3M306.5 549.6V593.3M307.5 550.5V593.3M308.5 551.4V597.1M309.5 554.7V597.1M310.5 555.6V597.1M311.5 556.5V596.8M312.5 557.4V596.8M313.5 554.3V592.8M314.5 554.3V588.8M315.5 554.3V582.3M316.5 554.3V582.3M317.5 553.8V582.3M318.5 554V582.3M319.5 554.3V582.6M320.5 554.6V582.6M321.5 554.8V582.6M322.5 556V582.6M323.5 556.3V582.6M324.5 556.5V588.2M325.5 556.7V588.7M326.5 555.8V589.7M327.5 555.8V585.1M328.5 555.8V586.1M329.5 555.8V587.1M330.5 556.4V587.6M331.5 556.4V587.1M332.5 556.4V587.1M333.5 558.3V587.1M334.5 558.3V588.6M335.5 555.7V588.6M336.5 555.7V588.6M337.5 555.7V588.6M338.5 555.7V593.1M339.5 560.7V593.1M340.5 561V588.6M341.5 561.6V592M342.5 562.2V595.3M343.5 561.7V598.6M344.5 562.3V608.5M345.5 562.6V612.1M346.5 562.4V615.4M347.5 562.4V619M348.5 562.4V619M349.5 562.4V619M350.5 558.4V619M351.5 555.8V619M352.5 553.2V619M353.5 550.6V614.3M354.5 551.7V611.3M355.5 550.4V605.8M356.5 550.4V606.2M357.5 550.4V603.2M358.5 549.5V596.6M359.5 549.5V596.6M360.5 547.2V596.6M361.5 547.2V596.6M362.5 546.6V602.4M363.5 548.2V598.4M364.5 549.8V594.4M365.5 551.4V592.4M366.5 555.6V592.4M367.5 557.2V586.3M368.5 557.2V586.3M369.5 557.2V586.3M370.5 557.2V585.5M371.5 553.1V583.9M372.5 553.1V584.5M373.5 553.1V582.9M374.5 555.8V581.3M375.5 555.8V580.5M376.5 555.8V580.5M377.5 555.8V585.3M378.5 555.8V585.3M379.5 557.4V585.3M380.5 557.4V585.3M381.5 557.4V585.3M382.5 557.4V579M383.5 554.2V579M384.5 550.3V585.9M385.5 548.7V585.9M386.5 548.7V584.9M387.5 547.1V584.9M388.5 547.1V584.9M389.5 547.1V584.9M390.5 538.5V579.1M391.5 525.2V578.8M392.5 512V578.6M393.5 512V578.3M394.5 512V578M395.5 512V583.8M396.5 524V583.5M397.5 548.3V581.2M398.5 548.3V581.2M399.5 548.3V581.2M400.5 549.5V585.2M401.5 555.1V593.2M402.5 557.5V603.8M403.5 559.9V603.8M404.5 559V603.8M405.5 560.4V603.8M406.5 560.8V602.9M407.5 561.2V602.9M408.5 561.6V612.9M409.5 562.4V623.6M410.5 562.8V628.6M411.5 563.2V628.6M412.5 563.6V628.6M413.5 564V628.6M414.5 564.4V621.2M415.5 564.6V624.7M416.5 564.6V631.7M417.5 564.6V644.9M418.5 570.3V652.9M419.5 575.9V660.5M420.5 580.9V664M421.5 586.6V664M422.5 591V664M423.5 595.4V664M424.5 599.8V664M425.5 602V660M426.5 603.4V646.1M427.5 603.4V638.1M428.5 605V638.1M429.5 604.9V643.1M430.5 606.5V643.1M431.5 608.1V643.1M432.5 609.7V643.1M433.5 609.7V643.1M434.5 608.4V641.9M435.5 608.4V644.9M436.5 608.4V652.2M437.5 608.4V659M438.5 608.3V659M439.5 608.3V659M440.5 608.4V657.5M441.5 608.6V654.5M442.5 608.8V651.2M443.5 609.1V647.6M444.5 609.3V644.6M445.5 609.5V643.1M446.5 609.5V637.2M447.5 609.5V637.2M448.5 609.5V637.2M449.5 609.9V637.2M450.5 609.9V637.2M451.5 609.6V639.2M452.5 609.6V639.2M453.5 609.6V642.3M454.5 609.6V642.3M455.5 609.5V642.3M456.5 609.1V642.3M457.5 608.9V639.5M458.5 608.7V639.5M459.5 608.5V637.6M460.5 613V637M461.5 613V635.8M462.5 613V636.3M463.5 613V636.3M464.5 613V633.7M465.5 608.8V633.7M466.5 608.8V639.9M467.5 608.8V639.9M468.5 608.8V639.9M469.5 613.7V638.3M470.5 613.7V638.3M471.5 613.7V637.9M472.5 613.7V637.9M473.5 609.6V637.9M474.5 609.6V637.9M475.5 606.3V634.6M476.5 599.7V637.6M477.5 591.9V642.6M478.5 585.3V645.6M479.5 578.4V646.7M480.5 575V648.2M481.5 575V648.2M482.5 575V648.2M483.5 575V648.2M484.5 575V652.6M485.5 577.6V652.9M486.5 583.9V653.5M487.5 590.8V654.1M488.5 590.8V653.3M489.5 590.9V653.9M490.5 590.9V654.2M491.5 590.9V655.2M492.5 591.8V655.2M493.5 591.8V658M494.5 591.8V658M495.5 590.4V658M496.5 590.4V658.1M497.5 590.4V658.1M498.5 590.4V637.6M499.5 588.5V623.6M500.5 587.1V616.6M501.5 589.5V617.4M502.5 586.7V617.4M503.5 583.9V617.4M504.5 581.1V617.4M505.5 579.7V620.4M506.5 578.7V618.8M507.5 578.7V617.2M508.5 578.7V615.6M509.5 578.7V612.2M510.5 576.8V611.4M511.5 572.5V611.4M512.5 568.7V611.4M513.5 564.9V611.8M514.5 561.1V611.8M515.5 557V610.3M516.5 557V607.3M517.5 557V604.9M518.5 558.1V601.9M519.5 558.1V598.9M520.5 558.1V599.4M521.5 558.1V606.8M522.5 558.1V610.8M523.5 558.5V614.8M524.5 558.5V618.9M525.5 555V620.9M526.5 552.6V621M527.5 550.2V621M528.5 546.7V621M529.5 544.3V621M530.5 541.9V617.6M531.5 539.5V609.4M532.5 537V600.4M533.5 538.3V600.4M534.5 538.3V603.4M535.5 537V603.4M536.5 537V603.4M537.5 537V600.6M538.5 537V600.6M539.5 537.8V600.6M540.5 539.4V600.2M541.5 543.8V599.4M542.5 545.7V597.9M543.5 545.7V597.1M544.5 545.7V596.3M545.5 545.7V595.5M546.5 548.5V596.4M547.5 548.5V595.6M548.5 550.1V595.6M549.5 551.7V595.6M550.5 553.1V596.1M551.5 554.7V596.1M552.5 556.3V596.1M553.5 556.3V594.3M554.5 558.8V592.5M555.5 558.8V585M556.5 558.8V583.2M557.5 554.5V581.4M558.5 554.5V581.4M559.5 555.6V581.7M560.5 555.6V581.7M561.5 555.6V581.7M562.5 555.6V581.7M563.5 556.5V583.1M564.5 556.5V583.1M565.5 556.5V582.8M566.5 556.5V582.8M567.5 556.5V582.8M568.5 553.3V582.8M569.5 553.3V582.8M570.5 553.3V590.2M571.5 555.3V593M572.5 555.3V595.8M573.5 554.9V595.8M574.5 554.9V591.9M575.5 554.9V591.9M576.5 554.9V591.2M577.5 554.9V591.2M578.5 558.7V591.2M579.5 558.7V591.2M580.5 559.2V595.8M581.5 560.2V595.8M582.5 559.4V595.8M583.5 560.4V595.8M584.5 561.4V591.1M585.5 561.9V595.1M586.5 558.2V603.1M587.5 558.2V616M588.5 558.2V616M589.5 558.2V616M590.5 556.8V616M591.5 555.5V616M592.5 552.7V616M593.5 549.9V608.9M594.5 546.2V600.5M595.5 544.8V598.7M596.5 544.8V598.7M597.5 544.8V598.7M598.5 544.9V598.7M599.5 544.9V598.7M600.5 544.9V598.1M601.5 544.9V598.1M602.5 544.2V598.1M603.5 547.1V598.1M604.5 549.7V603.2M605.5 552.3V600.6M606.5 554.9V595.4M607.5 562.6V583.7M608.5 562.6V583.7M609.5 561.5V583.7M610.5 561.5V584.1M611.5 557.5V584.1M612.5 557.5V588.6M613.5 557.5V588.6M614.5 557.5V588.6M615.5 557.5V588.6M616.5 562.8V588.6M617.5 562.8V587.6M618.5 561.5V587.6M619.5 561.5V587.6M620.5 559.1V588.2M621.5 559.1V589.4M622.5 559.1V588.5M623.5 558.9V588.5M624.5 558.9V586.6M625.5 557.5V586.6M626.5 554.7V586.6M627.5 551.9V586.6M628.5 551.4V593.2M629.5 551.4V593.2M630.5 550.5V593.2M631.5 540.7V593.2M632.5 522V587.9M633.5 522V587.9M634.5 522V592.9M635.5 522V592.9M636.5 526.5V593.2M637.5 535.5V593.2M638.5 546.7V600M639.5 559.1V602.8M640.5 563.6V606.2M641.5 558.7V606.2M642.5 558.7V605.6M643.5 558.7V605.6M644.5 558.7V605.6M645.5 561.7V605.6M646.5 559.7V605.6M647.5 557.7V610M648.5 557.7V610M649.5 554.8V607.5M650.5 554.8V607M651.5 556.7V604.5M652.5 556.7V603.5M653.5 550.7V602.5M654.5 544.7V601.5M655.5 539.4V605M656.5 539.4V605M657.5 539.4V605M658.5 539.4V604.8M659.5 538.5V604.8M660.5 538.5V604.8M661.5 538.5V605.8M662.5 538.5V605.8M663.5 538.8V604M664.5 538.8V604M665.5 539.6V601.8M666.5 542.4V597.4M667.5 545.2V589.7M668.5 545.9V585.3M669.5 545.9V580.9M670.5 545.9V578.7M671.5 545.9V576.3M672.5 545.9V576.3M673.5 549V576.3M674.5 553V576.3M675.5 555V579.7M676.5 555V593.2M677.5 555V600M678.5 555.2V600M679.5 555.2V600M680.5 557.6V600M681.5 557.6V593.2M682.5 557.6V593.2M683.5 559V597.8M684.5 559V597.8M685.5 561.6V597.8M686.5 566.8V597.8M687.5 572V596.6M688.5 572.5V596.6M689.5 572.5V596.6M690.5 572.5V596.6M691.5 572.5V596.6M692.5 569.3V600.3M693.5 569.3V600.3M694.5 569.3V600.3M695.5 572.7V602.6M696.5 581.7V607.2M697.5 588.5V609.1M698.5 588.5V613.7M699.5 588.5V620.6M700.5 590V622.9M701.5 590V622.9M702.5 590V621.1M703.5 590V621.1M704.5 590V621.1M705.5 586.9V621.1M706.5 589.5V621.1M707.5 597.3V616.3M708.5 599.9V616.3M709.5 602.5V616.3M710.5 603.8V618.8M711.5 603.8V631.3M712.5 603.4V636.3M713.5 603.4V635.8M714.5 603.4V640.8M715.5 603.4V643.9M716.5 603.4V644.9M717.5 601.7V645.9M718.5 602.5V646.9M719.5 603.6V649.9M720.5 604V651.3M721.5 604V652.9M722.5 604V654.6M723.5 600.7V652.8M724.5 586.8V652.3M725.5 578V651.2M726.5 578V650.8M727.5 578V650.3M728.5 588.8V649.9M729.5 600V649.5M730.5 605.3V656.2M731.5 605.3V666.5M732.5 605.3V676M733.5 605.3V680M734.5 605V680M735.5 605V680M736.5 605V680M737.5 605V680M738.5 605V673.5M739.5 609.1V653.1M740.5 609.1V646.6M741.5 609.1V646.6M742.5 609.1V646.6M743.5 609.1V647.1M744.5 606.9V647.1M745.5 606.9V647.1M746.5 606.9V647.1M747.5 605.5V649M748.5 605.5V649M749.5 605.5V649M750.5 605.5V651.6M751.5 605.5V652.6M752.5 609V653.6M753.5 609V654.6M754.5 609V650.9M755.5 609.3V651.4M756.5 607.3V651.4M757.5 607.9V651.4M758.5 608.5V651.3M759.5 612.6V651.3M760.5 612.9V653.5M761.5 610.6V659.1M762.5 610.6V663.4M763.5 613.7V671.4M764.5 613.7V673.5M765.5 613.7V673.5M766.5 608.7V673.2M767.5 608.7V673.2M768.5 612.2V673.2M769.5 612.2V675.1M770.5 609.8V673.5M771.5 605V671.9M772.5 600.6V669.4M773.5 600.2V667.8M774.5 599.8V667M775.5 598.9V667M776.5 593.2V667M777.5 591.8V666.1M778.5 590.4V666.1M779.5 589V664.2M780.5 592.1V664.2M781.5 590.5V662.3M782.5 588.8V659.2M783.5 587.1V653.1M784.5 585.6V646.9M785.5 583.9V640.7M786.5 579.6V640M787.5 572.6V633.8M788.5 560.7V629M789.5 553.7V623.3M790.5 548.2V619.7M791.5 544.2V616.1M792.5 543.1V612.5M793.5 538.6V590.1M794.5 533.6V566.3M795.5 528.6V555.6M796.5 523.6V544.1M797.5 517.3V536.1M798.5 508V530.8M799.5 498.7V525.4M800.5 494V522.5M801.5 490.3V524.6M802.5 490.3V524.1M803.5 490.3V521.6M804.5 489.7V523.9M805.5 489.2V526.4M806.5 489.2V528.6M807.5 489.2V528.6M808.5 491.7V528.6M809.5 491.7V528.6M810.5 491.9V528.6M811.5 491.9V529M812.5 491.9V529M813.5 491.9V529M814.5 494.6V529M815.5 494.6V529M816.5 494.6V523.7M817.5 494.6V523.7M818.5 494.6V523.7M819.5 489.2V524.4M820.5 488.6V525M821.5 487.4V526.5M822.5 486.2V527.7M823.5 485V528.9M824.5 488.4V535.3M825.5 487.5V543.6M826.5 486.9V551M827.5 486.3V551M828.5 480.9V551M829.5 480.2V551M830.5 479.6V543.3M831.5 479V535.1M832.5 481.2V535.1M833.5 481.2V535.1M834.5 483.3V536.8M835.5 483.3V536.8M836.5 483.3V536.8M837.5 483.3V536.8M838.5 479.1V536.8M839.5 479.1V529.3M840.5 479.1V529.3M841.5 480.6V536M842.5 480.6V536M843.5 483.6V530.6M844.5 489.2V525.1M845.5 492.2V522.3M846.5 492.2V524.4M847.5 492.2V524.4M848.5 496.4V524.4M849.5 496.4V524.4M850.5 496.4V524.4M851.5 496.4V519.1M852.5 493.2V519.1M853.5 493.2V520.2M854.5 493.2V520.2M855.5 493.2V520.1M856.5 492.3V520.1M857.5 492.3V520.1M858.5 492.3V520.1M859.5 492.3V525M860.5 494.2V525.8M861.5 491.7V527.3M862.5 490.5V528.2M863.5 490.5V528.2M864.5 490.5V528.2M865.5 486.8V528.2M866.5 486.8V528.2M867.5 486.8V521.1M868.5 478.8V528.2M869.5 463.5V550.4M870.5 456V557.5M871.5 456V557.5M872.5 456V557.5M873.5 456V557.5M874.5 456V557.5M875.5 478.7V554.6M876.5 500.3V546.2M877.5 500.3V540.4M878.5 500.3V537.5M879.5 500.3V537.5M880.5 500.3V538.4M881.5 504.9V538.4M882.5 499.9V538.4M883.5 494.9V542.9M884.5 494.9V548.2M885.5 493.6V548.2M886.5 493.6V544.5M887.5 489V544.5M888.5 489V544.5M889.5 481V543.7M890.5 473V542.7M891.5 473.7V540.7M892.5 473.7V539.7M893.5 473.7V539.7M894.5 475.9V538.7M895.5 477.2V538.7M896.5 480.8V538.7M897.5 482V538M898.5 482V538M899.5 482V542.5M900.5 482.1V536.3M901.5 482.1V524.4M902.5 482.1V512M903.5 478.6V512M904.5 478.6V512M905.5 480.6V515.8M906.5 484.6V519.1M907.5 492.9V523.8M908.5 496.9V525.6M909.5 500.9V527.4M910.5 502.9V528.3M911.5 502.9V534.4M912.5 501.8V536.2M913.5 501.8V539M914.5 501.8V539M915.5 501.8V539M916.5 500.9V539M917.5 499.7V539M918.5 497.2V532.5M919.5 494.7V525.9M920.5 493.4V522.9M921.5 490.5V517M922.5 490.7V517M923.5 491.2V517M924.5 491.6V517M925.5 492.8V517M926.5 493.3V523.7M927.5 493.7V523.7M928.5 493.7V523.7M929.5 493.7V523.7M930.5 493.6V521.2M931.5 493.6V523.2M932.5 493.6V525.2M933.5 493.6V525.2M934.5 494.6V525.2M935.5 494.4V525.3M936.5 493.9V525.3M937.5 493.4V525.3M938.5 492.9V525.3M939.5 492.5V522.3M940.5 492.3V521.3M941.5 492.6V519.3M942.5 492.6V523M943.5 492.6V523M944.5 496V523M945.5 496V520.2M946.5 496V520.2M947.5 496V520.2M948.5 493.4V520.2M949.5 493.4V516.2M950.5 492.1V516.2M951.5 492.1V523.9M952.5 489.6V523.9M953.5 487.1V523.9M954.5 482.1V519.8M955.5 480.9V522.3M956.5 480.9V527.3M957.5 480.8V533.5M958.5 480.8V533.5M959.5 480.8V532.1M960.5 473.9V532.1M961.5 462.2V533.8M962.5 457V533.8M963.5 457V533.8M964.5 457V533.8M965.5 457V535.3M966.5 460.6V538.3M967.5 467.7V541.3M968.5 475.3V543.8M969.5 482.4V548.7M970.5 488.5V551.7M971.5 488.5V556M972.5 488.5V559M973.5 488.5V559M974.5 488.5V559M975.5 485.5V559M976.5 485.5V557.1M977.5 485.5V551.2M978.5 485.8V547.4M979.5 485.8V540.4M980.5 486.1V537.6M981.5 486.6V535.6M982.5 487.1V538.9M983.5 491.5V536.9M984.5 492V534.9M985.5 492.3V533.9M986.5 492.3V533.9M987.5 491.6V531.9M988.5 491.6V531.9M989.5 491.6V533.9M990.5 491.6V531.9M991.5 493.7V523.1M992.5 493.7V519.1M993.5 493.7V519.1M994.5 489.9V519.1M995.5 488.7V519.1M996.5 486.3V519.5M997.5 482.7V519.5M998.5 482.1V519.5M999.5 482.1V519.5M1000.5 483V526.5M1001.5 484.8V532.5M1002.5 488.6V532.7M1003.5 490.3V538.7M1004.5 492V544.7M1005.5 492.9V552.2M1006.5 492.9V552.2M1007.5 494.6V553.3M1008.5 494.6V553.3M1009.5 494.6V552.2M1010.5 490.2V549M1011.5 477.4V548.4M1012.5 473V546.2M1013.5 473V546.2M1014.5 473V543.1M1015.5 473V543.1M1016.5 474.9V543.1M1017.5 475.6V543.1M1018.5 477.1V544.4M1019.5 482.1V544.4M1020.5 483.6V544.2M1021.5 481.6V541.2M1022.5 482.4V536.2M1023.5 482.4V533.2M1024.5 485.6V530.2M1025.5 485.6V528.7M1026.5 485.6V524.5M1027.5 485.6V524.5M1028.5 481.7V524.5M1029.5 481.7V525.7M1030.5 481.7V525.7M1031.5 481.2V531.1M1032.5 481.2V531.1M1033.5 481.2V531.1M1034.5 481.2V529.1M1035.5 483.9V528.8M1036.5 483.9V528.3M1037.5 480.8V527.8M1038.5 480.8V523.5M1039.5 480.8V523M1040.5 482.3V522.8M1041.5 485.3V522.8M1042.5 493.9V522.7M1043.5 496.9V522.7M1044.5 499.9V522.7M1045.5 501.4V524.1M1046.5 501.4V524.1M1047.5 497.7V524.1M1048.5 497.7V524.1M1049.5 496V521.6M1050.5 496V522.6M1051.5 500.1V531.5M1052.5 500.1V533.5M1053.5 500.1V535.5M1054.5 496.3V537.8M1055.5 495.6V538.8M1056.5 495.2V531.9M1057.5 493.8V531.9M1058.5 495.7V531.9M1059.5 495.7V534.4M1060.5 495.7V534.4M1061.5 495.7V534.4M1062.5 495.7V538.2M1063.5 492.6V538.2M1064.5 492.6V539M1065.5 495.9V542M1066.5 496.1V548M1067.5 496.3V554M1068.5 497.9V554M1069.5 498.1V554M1070.5 493.2V554M1071.5 493.2V552.1M1072.5 495.5V547.5M1073.5 495.5V544.6M1074.5 495.5V540.7M1075.5 489.5V538.9M1076.5 481.8V538.9M1077.5 478V538.9M1078.5 478V531.6M1079.5 478V531.6M1080.5 478V531.6M1081.5 478V531.6M1082.5 479.4V531.6M1083.5 482.1V536.6M1084.5 486.3V536.6M1085.5 489.1V536.6M1086.5 496.2V536.6M1087.5 498.9V536.6M1088.5 498.9V538.5M1089.5 498.9V538.5M1090.5 495.7V563M1091.5 495.7V611M1092.5 495.7V635M1093.5 495.7V635M1094.5 494.9V635M1095.5 494.9V635M1096.5 494.9V635M1097.5 494.9V580.8M1098.5 493.4V525.4M1099.5 495.1V525.4M1100.5 493.6V525.4M1101.5 492.1V525.4M1102.5 490.6V525.4M1103.5 490.6V526.3M1104.5 486V526.3M1105.5 486V526.4M1106.5 490.2V526.4M1107.5 490.2V526.4M1108.5 490.2V526.4M1109.5 470.5V518.8M1110.5 455.5V518.8M1111.5 455.5V518.8M1112.5 455.5V518.8M1113.5 455.5V526M1114.5 460.3V526M1115.5 469.9V528M1116.5 481V532.2M1117.5 491.7V536.2M1118.5 491.7V540.2M1119.5 491.7V544.2M1120.5 491.7V545.7M1121.5 491.7V545.7M1122.5 493.3V545.7M1123.5 493.3V545.7M1124.5 493V543.7M1125.5 493V543.7M1126.5 493V543.7M1127.5 493V543.7M1128.5 493V543.7M1129.5 489.6V539.7M1130.5 481.6V538.7M1131.5 473.6V537.5M1132.5 473.6V535.5M1133.5 473.6V538.4M1134.5 474.5V538.4M1135.5 474.5V539M1136.5 475.1V539M1137.5 476.4V539M1138.5 477.6V539M1139.5 481.8V539M1140.5 482.5V540.3M1141.5 482.5V539.8M1142.5 482.5V539.3M1143.5 478.7V538.8M1144.5 478.7V532.2M1145.5 478.7V531.7M1146.5 478.7V531.4M1147.5 482.9V531.1M1148.5 490.9V532.1M1149.5 498.9V531.7M1150.5 501.5V531.4M1151.5 501.5V531.1M1152.5 501.5V535.9M1153.5 501.5V535.9M1154.5 501.5V535.9M1155.5 499.5V529.5M1156.5 495.5V529.5M1157.5 489.4V534M1158.5 488.6V536.3M1159.5 488.6V538.7M1160.5 488.6V541M1161.5 489.5V545.5M1162.5 489.5V547.8M1163.5 501.7V550.1M1164.5 511.7V548.7M1165.5 513.2V549.8M1166.5 513.2V549.8M1167.5 513.2V552.9M1168.5 513.2V552.9M1169.5 513.9V552.9M1170.5 513.9V553.6M1171.5 513.9V553.6M1172.5 513.9V553.6M1173.5 522.9V551M1174.5 531.3V551.4M1175.5 535.8V556.8M1176.5 535.6V567.5M1177.5 535.6V578.5M1178.5 535.6V580.9M1179.5 535.6V580.9M1180.5 541V580.9M1181.5 554.6V577M1182.5 560V577.3M1183.5 560V577.3M1184.5 560V577.3M1185.5 558.6V575.6M1186.5 558.6V575.6M1187.5 558.6V575.6M1188.5 558.6V578M1189.5 557.4V578M1190.5 557.4V580M1191.5 557.4V590M1192.5 557.4V604.9M1193.5 557.4V604.9M1194.5 560.5V604.9M1195.5 557.5V601.9M1196.5 549.9V601.9M1197.5 542.8V601.9M1198.5 536V601.9M1199.5 530V606.2M1200.5 527V606M1201.5 527V605.5M1202.5 527V605M1203.5 527V604.5M1204.5 527V603.8M1205.5 527V606M1206.5 527V609M1207.5 532.2V614M1208.5 542.7V619M1209.5 553.3V625.7M1210.5 559.5V629M1211.5 559.5V629M1212.5 558.5V629M1213.5 558.5V629M1214.5 558.5V629M1215.5 558.2V629M1216.5 558.2V629M1217.5 558.2V629M1218.5 558.2V622.7M1219.5 558.6V615.8M1220.5 558.6V610.8M1221.5 558.6V601.3M1222.5 558.6V596.3M1223.5 558.6V596.3M1224.5 558.4V597.8M1225.5 558.4V597.8M1226.5 561V597.8M1227.5 561V597.8M1228.5 561V602.9M1229.5 561V602.9M1230.5 561V596.6M1231.5 561V596.6M1232.5 560.6V602.8M1233.5 560.6V602.8M1234.5 562.1V599M1235.5 560.1V600.5M1236.5 556.1V603.5M1237.5 551.6V605.7M1238.5 551.6V608.7M1239.5 551.2V611.7M1240.5 554.5V613.2M1241.5 557.5V614.2M1242.5 559V614.2M1243.5 558.1V611.2M1244.5 558.1V611.2M1245.5 558.1V611.3M1246.5 556.2V611.5M1247.5 556.2V614M1248.5 550.8V617.5M1249.5 545.3V612.9M1250.5 540.1V612.6M1251.5 537.2V609.7M1252.5 538.4V606.8M1253.5 538.4V606.8M1254.5 538.4V605.4M1255.5 538.4V605.4M1256.5 539.2V605.4M1257.5 539.8V605.4M1258.5 541.3V607.5M1259.5 545.5V607.5M1260.5 546.3V607M1261.5 546.3V606M1262.5 546.3V602.5M1263.5 546.3V601.5M1264.5 543.1V603.4M1265.5 545.6V602.9M1266.5 550.6V602.9M1267.5 555.6V602.9M1268.5 556.1V603.7M1269.5 559.7V603.7M1270.5 559.7V603.7M1271.5 559.7V603.7M1272.5 559.7V603.7M1273.5 559.7V596.2M1274.5 560.8V590.9M1275.5 560.8V588.3M1276.5 561.6V589.8M1277.5 561.6V589.8M1278.5 561.6V589.8M1279.5 561.6V587.8M1280.5 561.8V587.8M1281.5 561.4V587.8M1282.5 561.8V588.9M1283.5 561.9V588.9M1284.5 561.9V588.9M1285.5 557.2V587.2M1286.5 557.2V587.2M1287.5 557.2V587.2M1288.5 557.2V587.2M1289.5 557.2V591.7M1290.5 558.3V591.7M1291.5 558.3V591.7M1292.5 557.7V591.7M1293.5 557.7V594.1M1294.5 557.7V599.5M1295.5 557.7V602.3M1296.5 557.7V599.1M1297.5 557.6V599.1M1298.5 557.6V599.1M1299.5 557.6V600.1M1300.5 558.4V600.1M1301.5 559.8V600.7M1302.5 562.2V600.7M1303.5 562.5V600.7M1304.5 562.5V600.7M1305.5 562.5V609.2M1306.5 562.9V619.7M1307.5 562.9V619.7M1308.5 562.9V619.7M1309.5 562.9V619.7M1310.5 560.2V619.7M1311.5 558.4V619.7M1312.5 553.1V619.7M1313.5 550.4V615.9M1314.5 550.4V600.6M1315.5 550.4V596.8M1316.5 545.2V596.8M1317.5 545.2V598.9M1318.5 545.2V598.9M1319.5 545.5V598.9M1320.5 545.5V598.9M1321.5 545.3V596.8M1322.5 545.3V596.8M1323.5 546.6V595.2M1324.5 549.2V592.6M1325.5 555.2V591M1326.5 557.8V591M1327.5 560.4V597.9M1328.5 561.7V597.9M1329.5 560.7V597.2M1330.5 560.7V595.7M1331.5 560.7V587M1332.5 560.7V585.5M1333.5 560.7V584.8M1334.5 563V584.8M1335.5 563V584.8M1336.5 563V592M1337.5 558.1V592M1338.5 558.1V588.7M1339.5 558.1V588.7M1340.5 558.1V588.7M1341.5 561V588.7M1342.5 561V588.7M1343.5 561V585M1344.5 562.6V585M1345.5 559.1V592.4M1346.5 552.1V594.4M1347.5 542.3V594.9M1348.5 533.5V594.9M1349.5 526.5V594.9M1350.5 523V595.9M1351.5 523V595.9M1352.5 523V595.9M1353.5 523V593.4M1354.5 523V593.4M1355.5 523V595.6M1356.5 523V595.6M1357.5 528V595.6M1358.5 539.6V597.4M1359.5 548.2V596.9M1360.5 553.2V600.6M1361.5 553.2V604.4M1362.5 553.2V608.1M1363.5 553.6V613.5M1364.5 553.6V613.5M1365.5 553.6V613.5M1366.5 553.6V613.5M1367.5 553.6V614.5M1368.5 557.7V614.5M1369.5 557.7V614.5M1370.5 557.7V614.5M1371.5 551.3V610.3M1372.5 544.9V609.3M1373.5 538.5V611M1374.5 538.5V610M1375.5 538.5V609M1376.5 538.8V609M1377.5 538.8V601.7M1378.5 538.8V601.7M1379.5 538.8V601.7M1380.5 538.8V602.6M1381.5 540.5V602.6M1382.5 542.5V603.4M1383.5 543.5V603.4M1384.5 542.8V603.4M1385.5 542.8V603.4M1386.5 542.8V601.9M1387.5 542.8V606.5M1388.5 542.8V605M1389.5 546.4V603.4M1390.5 546.4V601.3M1391.5 550.2V601.3M1392.5 553.2V601.3M1393.5 556.9V601.3M1394.5 560.7V601.3M1395.5 564.4V597.5M1396.5 561.8V597.5M1397.5 561.8V597.5M1398.5 561.8V598.9M1399.5 564.4V598.9M1400.5 564.4V598.9M1401.5 564.4V597.1M1402.5 566.8V595.1M1403.5 566.2V591.6M1404.5 565V589.6M1405.5 558.9V592M1406.5 558.8V591.8M1407.5 558.8V591.8M1408.5 558.8V591.8M1409.5 558.8V591.8M1410.5 559.9V591.2M1411.5 559.9V591.2M1412.5 559.9V591.2M1413.5 559.9V587.2M1414.5 559.9V587.2M1415.5 559.8V587.2M1416.5 559.8V590.2M1417.5 560.6V590.2M1418.5 559.7V590.2M1419.5 557.8V590.2M1420.5 558.4V591.7M1421.5 558V589.9M1422.5 558V580.7M1423.5 553.2V579.6M1424.5 553.2V579.6M1425.5 553.2V579.6M1426.5 553.7V579.6M1427.5 553.7V579M1428.5 553.7V579M1429.5 554.4V579M1430.5 554.4V586.9M1431.5 554.4V586.9M1432.5 553.3V586.9M1433.5 553.3V586.9" fill="none" stroke="#f00" stroke-width="1" shape-rendering="crispEdges"/>
<g font-family="'Liberation Sans', Arial, Helvetica, sans-serif" font-size="43.5" fill="#262626">
<text x="137" y="1055.5" text-anchor="end">-8</text>
<text x="137" y="935.8" text-anchor="end">-6</text>
<text x="137" y="816" text-anchor="end">-4</text>
<text x="137" y="696.2" text-anchor="end">-2</text>
<text x="137" y="576.5" text-anchor="end">0</text>
<text x="137" y="456.8" text-anchor="end">2</text>
<text x="137" y="337" text-anchor="end">4</text>
<text x="137" y="217.2" text-anchor="end">6</text>
<text x="137" y="97.5" text-anchor="end">8</text>
<text x="154.5" y="1100.8" text-anchor="middle">0</text>
<text x="409.7" y="1100.8" text-anchor="middle">2</text>
<text x="664.9" y="1100.8" text-anchor="middle">4</text>
<text x="920.1" y="1100.8" text-anchor="middle">6</text>
<text x="1175.3" y="1100.8" text-anchor="middle">8</text>
<text x="1430.5" y="1100.8" text-anchor="middle">10</text>
</g>
<g font-family="'Liberation Sans', Arial, Helvetica, sans-serif" fill="#262626">
<text><tspan x="157" y="77" font-size="55" font-family="Liberation Serif, serif">×</tspan><tspan x="189" y="70" font-size="42">10</tspan><tspan x="238" y="49" font-size="35">-3</tspan></text>
</g>
<text x="791.7" y="1164" font-family="'Liberation Sans', Arial, Helvetica, sans-serif" font-size="48" fill="#262626" text-anchor="middle">Time(s)</text>
<text transform="translate(77 560) rotate(-90)" x="0" y="0" font-family="'Liberation Sans', Arial, Helvetica, sans-serif" font-size="47" fill="#262626" text-anchor="middle">Uncertainties</text>
<rect x="1013.5" y="912.7" width="404.5" height="113.3" fill="#fff" stroke="#262626" stroke-width="3"/>
<line x1="1026" y1="944.5" x2="1155" y2="944.5" stroke="#00f" stroke-width="5" stroke-dasharray="18 4 9 3"/>
<line x1="1026" y1="995" x2="1155" y2="995" stroke="#f00" stroke-width="6"/>
<g font-family="'Liberation Sans', Arial, Helvetica, sans-serif" font-size="38.5" fill="#000" style="font-kerning:none">
<text x="1164" y="960.3">Yaw rate</text>
<text x="1164" y="1010.7">Sideslip angle</text>
</g>
</svg></body></html>
